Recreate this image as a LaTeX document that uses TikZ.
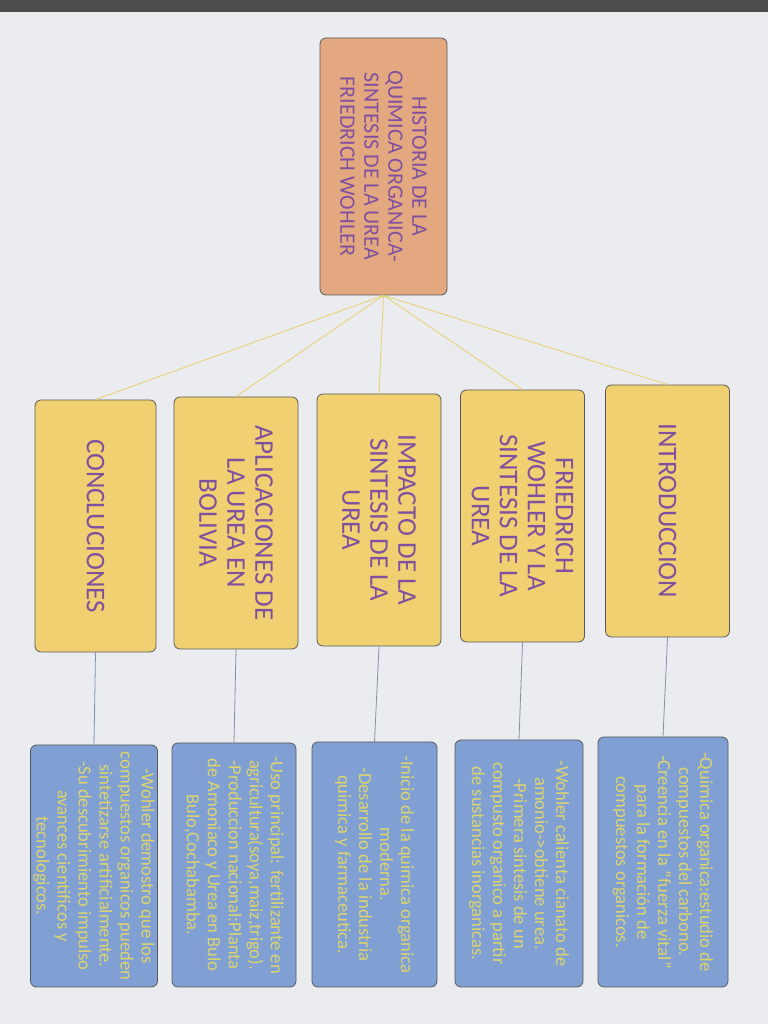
\documentclass[tikz,border=0pt]{standalone}
\usepackage{fontspec}
\setmainfont{Carlito}
\definecolor{bg}{RGB}{234,236,240}
\definecolor{salmon}{RGB}{228,168,128}
\definecolor{ylw}{RGB}{240,208,112}
\definecolor{blu}{RGB}{128,160,212}
\definecolor{purp}{RGB}{128,80,160}
\definecolor{ytxt}{RGB}{222,212,110}
\definecolor{yline}{RGB}{232,210,120}
\definecolor{bline}{RGB}{130,145,175}
\tikzset{
 box/.style={rotate=-90,draw=gray!70!black,line width=0.8pt,rounded corners=6pt,align=center,inner sep=3pt},
 titlebox/.style={box,fill=salmon,text=purp,font=\fontsize{22}{24}\selectfont,minimum width=257pt,minimum height=127pt},
 ybox/.style={box,fill=ylw,text=purp,font=\fontsize{27}{28}\selectfont,minimum width=252pt,minimum height=124pt},
 bbox/.style={box,fill=blu,text=ytxt,font=\fontsize{18.5}{21}\selectfont,minimum width=246pt,minimum height=126pt},
 yl/.style={yline,line width=0.9pt},
 bl/.style={bline,line width=0.8pt}
}
\begin{document}
\begin{tikzpicture}[x=1pt,y=1pt]
\fill[bg] (0,0) rectangle (768,1024);
\fill[gray!60!black] (0,1024) rectangle (768,1012);
\node[titlebox] (t) at (383.5,857.5) {HISTORIA DE LA\\QUIMICA ORGANICA-\\SINTESIS DE LA UREA\\FRIEDRICH WOHLER};
\node[ybox] (y1) at (667.5,513) {INTRODUCCION};
\node[ybox] (y2) at (522.5,508) {FRIEDRICH\\WOHLER Y LA\\SINTESIS DE LA\\UREA};
\node[ybox] (y3) at (379,504) {IMPACTO DE LA\\SINTESIS DE LA\\UREA};
\node[ybox] (y4) at (236,501) {APLICACIONES DE\\LA UREA EN\\BOLIVIA};
\node[ybox,minimum height=121pt] (y5) at (95.5,498) {CONCLUCIONES};
\node[bbox,minimum height=130pt,minimum width=250pt] (b1) at (663,162) {-Quimica organica:estudio de\\compuestos del carbono.\\-Creencia en la "fuerza vital"\\para la formación de\\compuestos organicos.};
\node[bbox,minimum height=128pt,minimum width=247pt] (b2) at (519,160.5) {-Wohler calienta cianato de\\amonio->obtiene urea.\\-Primera sintesis de un\\compusto organico a partir\\de sustancias inorganicas.};
\node[bbox,minimum height=125pt,minimum width=245pt] (b3) at (374.5,159.5) {-Inicio de la quimica organica\\moderna.\\-Desarrollo de la industria\\quimica y farmaceutica.};
\node[bbox,minimum height=124pt,minimum width=244pt] (b4) at (234,159) {-Uso principal: fertilizante en\\agricultura(soya,maiz,trigo).\\-Produccion nacional:Planta\\de Amoniaco y Urea en Bulo\\Bulo,Cochabamba.};
\node[bbox,minimum height=122pt,minimum width=242pt] (b5) at (94,158) {-Wohler demostro que los\\compuestos organicos pueden\\sintetizarse artificialmente.\\-Su descubrimiento impulso\\avances cientificos y\\tecnologicos.};
\foreach \i in {1,...,5}{\draw[yl] (t.east) -- (y\i.west); \draw[bl] (y\i.east) -- (b\i.west);}
\end{tikzpicture}
\end{document}
